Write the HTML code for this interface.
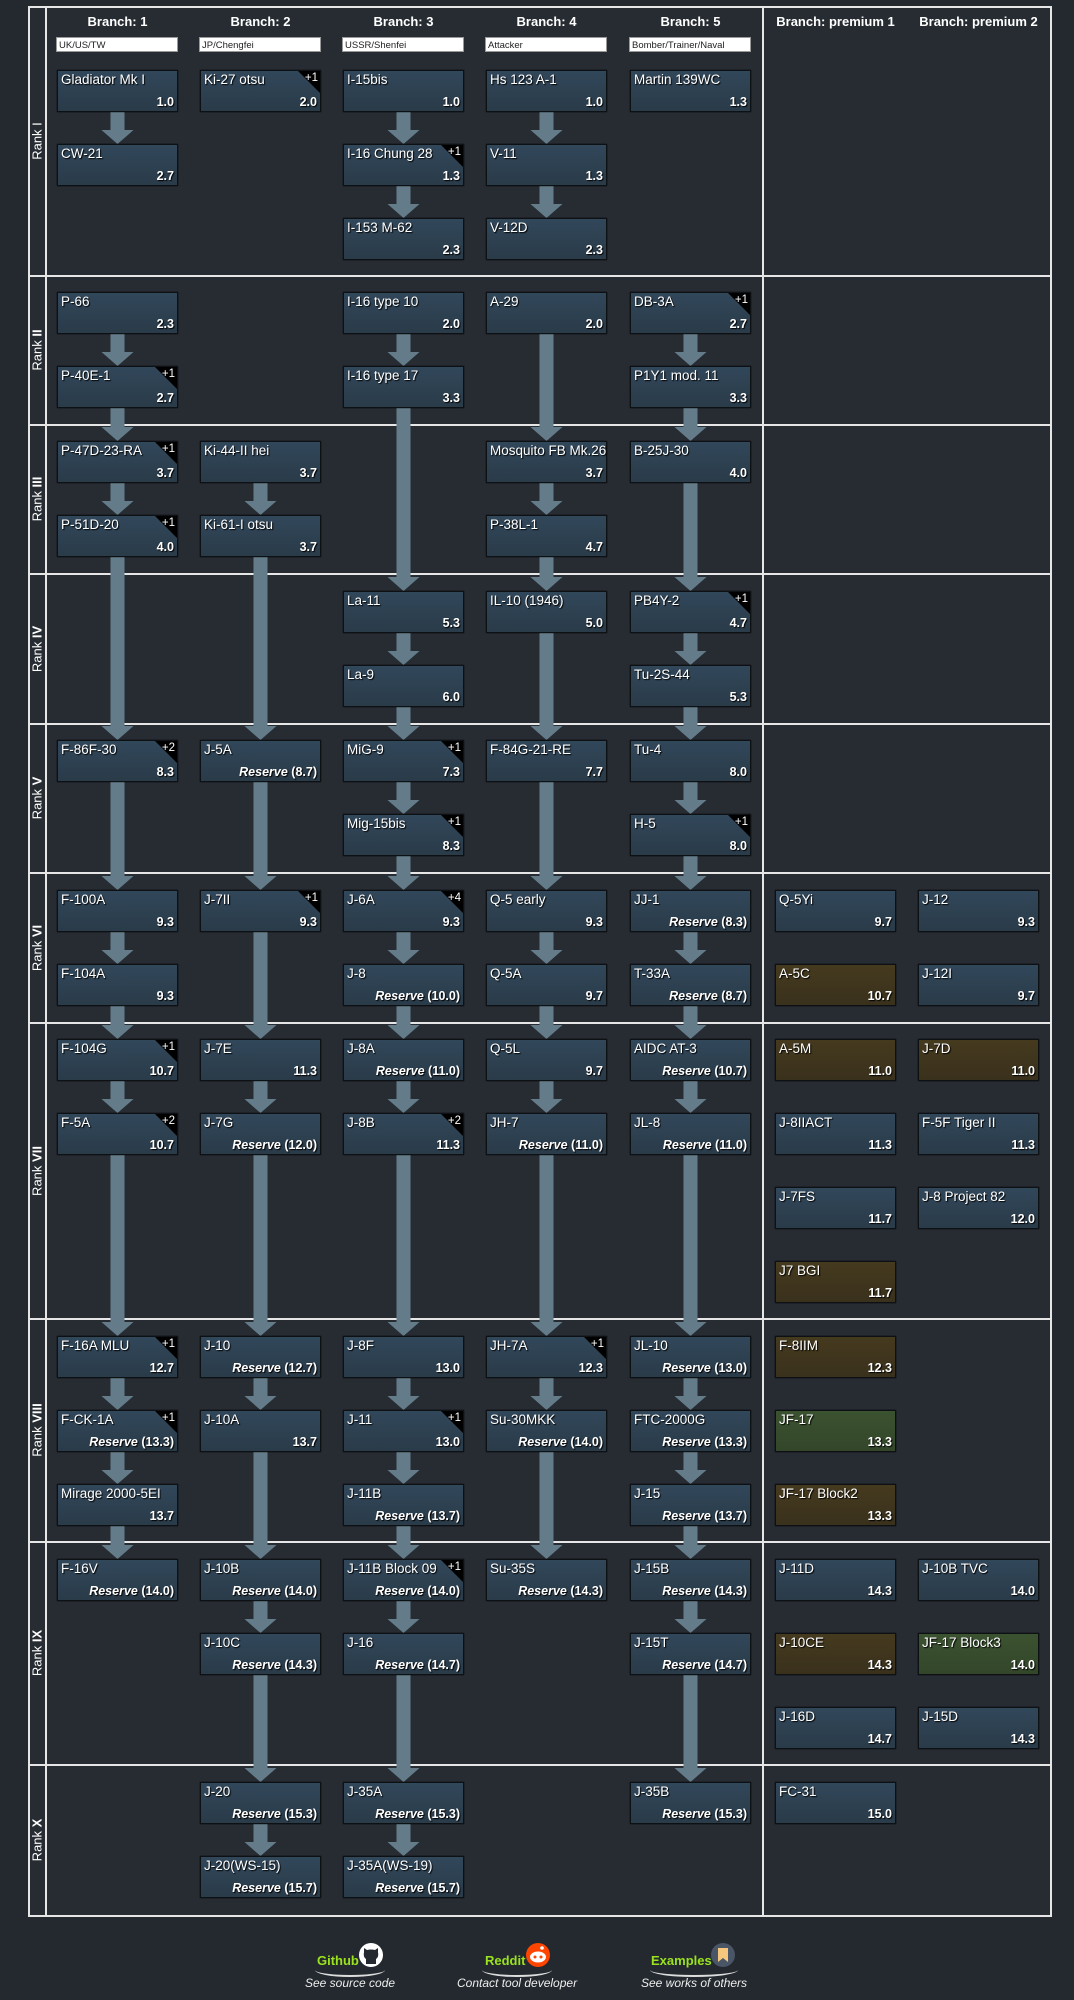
<!DOCTYPE html>
<html><head><meta charset="utf-8"><style>
body{margin:0;width:1074px;height:2000px;background:#23292e;font-family:"Liberation Sans",sans-serif;position:relative;overflow:hidden;color:#fff}
.frame{position:absolute;left:28px;top:6px;width:1020px;height:1907px;border:2px solid #e6e6e6;background:#262c32}
.hl{position:absolute;left:28px;width:1024px;height:2px;background:#e6e6e6}
.vl{position:absolute;width:2px;background:#e6e6e6}
.bh{position:absolute;top:14px;width:143px;text-align:center;font-weight:bold;font-size:13px}
.lb{position:absolute;top:37px;width:122px;height:15px;background:#fff;color:#222;font-size:9.5px;line-height:15px;padding-left:2px;border:1px solid #999;box-sizing:border-box}
.rk{position:absolute;left:28px;width:18px}
.rk span{position:absolute;left:50%;top:50%;transform:translate(-50%,-50%) rotate(-90deg);white-space:nowrap;font-size:13px}
.c{position:absolute;width:119px;height:40px;border:1px solid #0d1114;background:linear-gradient(#31475a,#2a3b49);box-shadow:0 0 1px #000}
.g{background:linear-gradient(#453a1e,#3a311d)}
.gr{background:linear-gradient(#3b5230,#33462a)}
.n{position:absolute;left:3px;top:1px;font-size:13.5px;white-space:nowrap;text-shadow:1px 1px 1px #000}
.b{position:absolute;right:3px;bottom:2px;font-size:12.5px;font-weight:bold;text-shadow:1px 1px 1px #000}
.b i{font-style:italic}
.t{position:absolute;right:0;top:0;width:0;height:0;border-top:22px solid #000;border-left:22px solid transparent}
.tt{position:absolute;right:2px;top:1px;font-size:11.5px}
svg{position:absolute;left:0;top:0}
.ft{position:absolute;top:1953px;font-weight:bold;color:#9be21e;font-size:13px}
.fs{position:absolute;top:1976px;font-style:italic;font-size:12px;color:#eee}
.ul{position:absolute;top:1970px;height:5px;border-bottom:2px solid #ddd;border-radius:0 0 50% 50%/0 0 100% 100%}
</style></head><body>
<div class="frame"></div>
<div class="vl" style="left:45px;top:6px;height:1909px"></div>
<div class="vl" style="left:762px;top:6px;height:1909px"></div>
<div class="hl" style="top:275px"></div><div class="hl" style="top:424px"></div><div class="hl" style="top:573px"></div><div class="hl" style="top:723px"></div><div class="hl" style="top:872px"></div><div class="hl" style="top:1022px"></div><div class="hl" style="top:1318px"></div><div class="hl" style="top:1541px"></div><div class="hl" style="top:1764px"></div>

<div class="rk" style="top:6px;height:269px"><span>Rank I</span></div>
<div class="rk" style="top:276px;height:148px"><span>Rank <b>II</b></span></div>
<div class="rk" style="top:425px;height:148px"><span>Rank <b>III</b></span></div>
<div class="rk" style="top:574px;height:149px"><span>Rank <b>IV</b></span></div>
<div class="rk" style="top:724px;height:148px"><span>Rank <b>V</b></span></div>
<div class="rk" style="top:873px;height:149px"><span>Rank <b>VI</b></span></div>
<div class="rk" style="top:1023px;height:295px"><span>Rank <b>VII</b></span></div>
<div class="rk" style="top:1319px;height:222px"><span>Rank <b>VIII</b></span></div>
<div class="rk" style="top:1542px;height:222px"><span>Rank <b>IX</b></span></div>
<div class="rk" style="top:1765px;height:150px"><span>Rank <b>X</b></span></div>

<div class="bh" style="left:46px">Branch: 1</div>
<div class="bh" style="left:189px">Branch: 2</div>
<div class="bh" style="left:332px">Branch: 3</div>
<div class="bh" style="left:475px">Branch: 4</div>
<div class="bh" style="left:619px">Branch: 5</div>
<div class="bh" style="left:764px">Branch: premium 1</div>
<div class="bh" style="left:907px">Branch: premium 2</div>
<div class="lb" style="left:56px">UK/US/TW</div>
<div class="lb" style="left:199px">JP/Chengfei</div>
<div class="lb" style="left:342px">USSR/Shenfei</div>
<div class="lb" style="left:485px">Attacker</div>
<div class="lb" style="left:629px">Bomber/Trainer/Naval</div>

<svg width="1074" height="2000" fill="#647c8a">
<g transform="translate(117.5,0)">
<polygon points="-7,112 7,112 7,130 16,130 0,144 -16,130 -7,130"/>
<polygon points="-7,334 7,334 7,352 16,352 0,366 -16,352 -7,352"/>
<polygon points="-7,408 7,408 7,427 16,427 0,441 -16,427 -7,427"/>
<polygon points="-7,483 7,483 7,501 16,501 0,515 -16,501 -7,501"/>
<polygon points="-7,557 7,557 7,726 16,726 0,740 -16,726 -7,726"/>
<polygon points="-7,782 7,782 7,876 16,876 0,890 -16,876 -7,876"/>
<polygon points="-7,932 7,932 7,950 16,950 0,964 -16,950 -7,950"/>
<polygon points="-7,1006 7,1006 7,1025 16,1025 0,1039 -16,1025 -7,1025"/>
<polygon points="-7,1081 7,1081 7,1099 16,1099 0,1113 -16,1099 -7,1099"/>
<polygon points="-7,1155 7,1155 7,1322 16,1322 0,1336 -16,1322 -7,1322"/>
<polygon points="-7,1378 7,1378 7,1396 16,1396 0,1410 -16,1396 -7,1396"/>
<polygon points="-7,1452 7,1452 7,1470 16,1470 0,1484 -16,1470 -7,1470"/>
<polygon points="-7,1526 7,1526 7,1545 16,1545 0,1559 -16,1545 -7,1545"/>
</g>
<g transform="translate(260.5,0)">
<polygon points="-7,483 7,483 7,501 16,501 0,515 -16,501 -7,501"/>
<polygon points="-7,557 7,557 7,726 16,726 0,740 -16,726 -7,726"/>
<polygon points="-7,782 7,782 7,876 16,876 0,890 -16,876 -7,876"/>
<polygon points="-7,932 7,932 7,1025 16,1025 0,1039 -16,1025 -7,1025"/>
<polygon points="-7,1081 7,1081 7,1099 16,1099 0,1113 -16,1099 -7,1099"/>
<polygon points="-7,1155 7,1155 7,1322 16,1322 0,1336 -16,1322 -7,1322"/>
<polygon points="-7,1378 7,1378 7,1396 16,1396 0,1410 -16,1396 -7,1396"/>
<polygon points="-7,1452 7,1452 7,1545 16,1545 0,1559 -16,1545 -7,1545"/>
<polygon points="-7,1601 7,1601 7,1619 16,1619 0,1633 -16,1619 -7,1619"/>
<polygon points="-7,1675 7,1675 7,1768 16,1768 0,1782 -16,1768 -7,1768"/>
<polygon points="-7,1824 7,1824 7,1842 16,1842 0,1856 -16,1842 -7,1842"/>
</g>
<g transform="translate(403.5,0)">
<polygon points="-7,112 7,112 7,130 16,130 0,144 -16,130 -7,130"/>
<polygon points="-7,186 7,186 7,204 16,204 0,218 -16,204 -7,204"/>
<polygon points="-7,334 7,334 7,352 16,352 0,366 -16,352 -7,352"/>
<polygon points="-7,408 7,408 7,577 16,577 0,591 -16,577 -7,577"/>
<polygon points="-7,633 7,633 7,651 16,651 0,665 -16,651 -7,651"/>
<polygon points="-7,707 7,707 7,726 16,726 0,740 -16,726 -7,726"/>
<polygon points="-7,782 7,782 7,800 16,800 0,814 -16,800 -7,800"/>
<polygon points="-7,856 7,856 7,876 16,876 0,890 -16,876 -7,876"/>
<polygon points="-7,932 7,932 7,950 16,950 0,964 -16,950 -7,950"/>
<polygon points="-7,1006 7,1006 7,1025 16,1025 0,1039 -16,1025 -7,1025"/>
<polygon points="-7,1081 7,1081 7,1099 16,1099 0,1113 -16,1099 -7,1099"/>
<polygon points="-7,1155 7,1155 7,1322 16,1322 0,1336 -16,1322 -7,1322"/>
<polygon points="-7,1378 7,1378 7,1396 16,1396 0,1410 -16,1396 -7,1396"/>
<polygon points="-7,1452 7,1452 7,1470 16,1470 0,1484 -16,1470 -7,1470"/>
<polygon points="-7,1526 7,1526 7,1545 16,1545 0,1559 -16,1545 -7,1545"/>
<polygon points="-7,1601 7,1601 7,1619 16,1619 0,1633 -16,1619 -7,1619"/>
<polygon points="-7,1675 7,1675 7,1768 16,1768 0,1782 -16,1768 -7,1768"/>
<polygon points="-7,1824 7,1824 7,1842 16,1842 0,1856 -16,1842 -7,1842"/>
</g>
<g transform="translate(546.5,0)">
<polygon points="-7,112 7,112 7,130 16,130 0,144 -16,130 -7,130"/>
<polygon points="-7,186 7,186 7,204 16,204 0,218 -16,204 -7,204"/>
<polygon points="-7,334 7,334 7,427 16,427 0,441 -16,427 -7,427"/>
<polygon points="-7,483 7,483 7,501 16,501 0,515 -16,501 -7,501"/>
<polygon points="-7,557 7,557 7,577 16,577 0,591 -16,577 -7,577"/>
<polygon points="-7,633 7,633 7,726 16,726 0,740 -16,726 -7,726"/>
<polygon points="-7,782 7,782 7,876 16,876 0,890 -16,876 -7,876"/>
<polygon points="-7,932 7,932 7,950 16,950 0,964 -16,950 -7,950"/>
<polygon points="-7,1006 7,1006 7,1025 16,1025 0,1039 -16,1025 -7,1025"/>
<polygon points="-7,1081 7,1081 7,1099 16,1099 0,1113 -16,1099 -7,1099"/>
<polygon points="-7,1155 7,1155 7,1322 16,1322 0,1336 -16,1322 -7,1322"/>
<polygon points="-7,1378 7,1378 7,1396 16,1396 0,1410 -16,1396 -7,1396"/>
<polygon points="-7,1452 7,1452 7,1545 16,1545 0,1559 -16,1545 -7,1545"/>
</g>
<g transform="translate(690.5,0)">
<polygon points="-7,334 7,334 7,352 16,352 0,366 -16,352 -7,352"/>
<polygon points="-7,408 7,408 7,427 16,427 0,441 -16,427 -7,427"/>
<polygon points="-7,483 7,483 7,577 16,577 0,591 -16,577 -7,577"/>
<polygon points="-7,633 7,633 7,651 16,651 0,665 -16,651 -7,651"/>
<polygon points="-7,707 7,707 7,726 16,726 0,740 -16,726 -7,726"/>
<polygon points="-7,782 7,782 7,800 16,800 0,814 -16,800 -7,800"/>
<polygon points="-7,856 7,856 7,876 16,876 0,890 -16,876 -7,876"/>
<polygon points="-7,932 7,932 7,950 16,950 0,964 -16,950 -7,950"/>
<polygon points="-7,1006 7,1006 7,1025 16,1025 0,1039 -16,1025 -7,1025"/>
<polygon points="-7,1081 7,1081 7,1099 16,1099 0,1113 -16,1099 -7,1099"/>
<polygon points="-7,1155 7,1155 7,1322 16,1322 0,1336 -16,1322 -7,1322"/>
<polygon points="-7,1378 7,1378 7,1396 16,1396 0,1410 -16,1396 -7,1396"/>
<polygon points="-7,1452 7,1452 7,1470 16,1470 0,1484 -16,1470 -7,1470"/>
<polygon points="-7,1526 7,1526 7,1545 16,1545 0,1559 -16,1545 -7,1545"/>
<polygon points="-7,1601 7,1601 7,1619 16,1619 0,1633 -16,1619 -7,1619"/>
<polygon points="-7,1675 7,1675 7,1768 16,1768 0,1782 -16,1768 -7,1768"/>
</g>
</svg>

<div class="c" style="left:57px;top:70px"><span class="n">Gladiator Mk I</span><span class="b">1.0</span></div>
<div class="c" style="left:57px;top:144px"><span class="n">CW-21</span><span class="b">2.7</span></div>
<div class="c" style="left:57px;top:292px"><span class="n">P-66</span><span class="b">2.3</span></div>
<div class="c" style="left:57px;top:366px"><span class="n">P-40E-1</span><span class="t"></span><span class="tt">+1</span><span class="b">2.7</span></div>
<div class="c" style="left:57px;top:441px"><span class="n">P-47D-23-RA</span><span class="t"></span><span class="tt">+1</span><span class="b">3.7</span></div>
<div class="c" style="left:57px;top:515px"><span class="n">P-51D-20</span><span class="t"></span><span class="tt">+1</span><span class="b">4.0</span></div>
<div class="c" style="left:57px;top:740px"><span class="n">F-86F-30</span><span class="t"></span><span class="tt">+2</span><span class="b">8.3</span></div>
<div class="c" style="left:57px;top:890px"><span class="n">F-100A</span><span class="b">9.3</span></div>
<div class="c" style="left:57px;top:964px"><span class="n">F-104A</span><span class="b">9.3</span></div>
<div class="c" style="left:57px;top:1039px"><span class="n">F-104G</span><span class="t"></span><span class="tt">+1</span><span class="b">10.7</span></div>
<div class="c" style="left:57px;top:1113px"><span class="n">F-5A</span><span class="t"></span><span class="tt">+2</span><span class="b">10.7</span></div>
<div class="c" style="left:57px;top:1336px"><span class="n">F-16A MLU</span><span class="t"></span><span class="tt">+1</span><span class="b">12.7</span></div>
<div class="c" style="left:57px;top:1410px"><span class="n">F-CK-1A</span><span class="t"></span><span class="tt">+1</span><span class="b"><i>Reserve</i> (13.3)</span></div>
<div class="c" style="left:57px;top:1484px"><span class="n">Mirage 2000-5EI</span><span class="b">13.7</span></div>
<div class="c" style="left:57px;top:1559px"><span class="n">F-16V</span><span class="b"><i>Reserve</i> (14.0)</span></div>
<div class="c" style="left:200px;top:70px"><span class="n">Ki-27 otsu</span><span class="t"></span><span class="tt">+1</span><span class="b">2.0</span></div>
<div class="c" style="left:200px;top:441px"><span class="n">Ki-44-II hei</span><span class="b">3.7</span></div>
<div class="c" style="left:200px;top:515px"><span class="n">Ki-61-I otsu</span><span class="b">3.7</span></div>
<div class="c" style="left:200px;top:740px"><span class="n">J-5A</span><span class="b"><i>Reserve</i> (8.7)</span></div>
<div class="c" style="left:200px;top:890px"><span class="n">J-7II</span><span class="t"></span><span class="tt">+1</span><span class="b">9.3</span></div>
<div class="c" style="left:200px;top:1039px"><span class="n">J-7E</span><span class="b">11.3</span></div>
<div class="c" style="left:200px;top:1113px"><span class="n">J-7G</span><span class="b"><i>Reserve</i> (12.0)</span></div>
<div class="c" style="left:200px;top:1336px"><span class="n">J-10</span><span class="b"><i>Reserve</i> (12.7)</span></div>
<div class="c" style="left:200px;top:1410px"><span class="n">J-10A</span><span class="b">13.7</span></div>
<div class="c" style="left:200px;top:1559px"><span class="n">J-10B</span><span class="b"><i>Reserve</i> (14.0)</span></div>
<div class="c" style="left:200px;top:1633px"><span class="n">J-10C</span><span class="b"><i>Reserve</i> (14.3)</span></div>
<div class="c" style="left:200px;top:1782px"><span class="n">J-20</span><span class="b"><i>Reserve</i> (15.3)</span></div>
<div class="c" style="left:200px;top:1856px"><span class="n">J-20(WS-15)</span><span class="b"><i>Reserve</i> (15.7)</span></div>
<div class="c" style="left:343px;top:70px"><span class="n">I-15bis</span><span class="b">1.0</span></div>
<div class="c" style="left:343px;top:144px"><span class="n">I-16 Chung 28</span><span class="t"></span><span class="tt">+1</span><span class="b">1.3</span></div>
<div class="c" style="left:343px;top:218px"><span class="n">I-153 M-62</span><span class="b">2.3</span></div>
<div class="c" style="left:343px;top:292px"><span class="n">I-16 type 10</span><span class="b">2.0</span></div>
<div class="c" style="left:343px;top:366px"><span class="n">I-16 type 17</span><span class="b">3.3</span></div>
<div class="c" style="left:343px;top:591px"><span class="n">La-11</span><span class="b">5.3</span></div>
<div class="c" style="left:343px;top:665px"><span class="n">La-9</span><span class="b">6.0</span></div>
<div class="c" style="left:343px;top:740px"><span class="n">MiG-9</span><span class="t"></span><span class="tt">+1</span><span class="b">7.3</span></div>
<div class="c" style="left:343px;top:814px"><span class="n">Mig-15bis</span><span class="t"></span><span class="tt">+1</span><span class="b">8.3</span></div>
<div class="c" style="left:343px;top:890px"><span class="n">J-6A</span><span class="t"></span><span class="tt">+4</span><span class="b">9.3</span></div>
<div class="c" style="left:343px;top:964px"><span class="n">J-8</span><span class="b"><i>Reserve</i> (10.0)</span></div>
<div class="c" style="left:343px;top:1039px"><span class="n">J-8A</span><span class="b"><i>Reserve</i> (11.0)</span></div>
<div class="c" style="left:343px;top:1113px"><span class="n">J-8B</span><span class="t"></span><span class="tt">+2</span><span class="b">11.3</span></div>
<div class="c" style="left:343px;top:1336px"><span class="n">J-8F</span><span class="b">13.0</span></div>
<div class="c" style="left:343px;top:1410px"><span class="n">J-11</span><span class="t"></span><span class="tt">+1</span><span class="b">13.0</span></div>
<div class="c" style="left:343px;top:1484px"><span class="n">J-11B</span><span class="b"><i>Reserve</i> (13.7)</span></div>
<div class="c" style="left:343px;top:1559px"><span class="n">J-11B Block 09</span><span class="t"></span><span class="tt">+1</span><span class="b"><i>Reserve</i> (14.0)</span></div>
<div class="c" style="left:343px;top:1633px"><span class="n">J-16</span><span class="b"><i>Reserve</i> (14.7)</span></div>
<div class="c" style="left:343px;top:1782px"><span class="n">J-35A</span><span class="b"><i>Reserve</i> (15.3)</span></div>
<div class="c" style="left:343px;top:1856px"><span class="n">J-35A(WS-19)</span><span class="b"><i>Reserve</i> (15.7)</span></div>
<div class="c" style="left:486px;top:70px"><span class="n">Hs 123 A-1</span><span class="b">1.0</span></div>
<div class="c" style="left:486px;top:144px"><span class="n">V-11</span><span class="b">1.3</span></div>
<div class="c" style="left:486px;top:218px"><span class="n">V-12D</span><span class="b">2.3</span></div>
<div class="c" style="left:486px;top:292px"><span class="n">A-29</span><span class="b">2.0</span></div>
<div class="c" style="left:486px;top:441px"><span class="n">Mosquito FB Mk.26</span><span class="b">3.7</span></div>
<div class="c" style="left:486px;top:515px"><span class="n">P-38L-1</span><span class="b">4.7</span></div>
<div class="c" style="left:486px;top:591px"><span class="n">IL-10 (1946)</span><span class="b">5.0</span></div>
<div class="c" style="left:486px;top:740px"><span class="n">F-84G-21-RE</span><span class="b">7.7</span></div>
<div class="c" style="left:486px;top:890px"><span class="n">Q-5 early</span><span class="b">9.3</span></div>
<div class="c" style="left:486px;top:964px"><span class="n">Q-5A</span><span class="b">9.7</span></div>
<div class="c" style="left:486px;top:1039px"><span class="n">Q-5L</span><span class="b">9.7</span></div>
<div class="c" style="left:486px;top:1113px"><span class="n">JH-7</span><span class="b"><i>Reserve</i> (11.0)</span></div>
<div class="c" style="left:486px;top:1336px"><span class="n">JH-7A</span><span class="t"></span><span class="tt">+1</span><span class="b">12.3</span></div>
<div class="c" style="left:486px;top:1410px"><span class="n">Su-30MKK</span><span class="b"><i>Reserve</i> (14.0)</span></div>
<div class="c" style="left:486px;top:1559px"><span class="n">Su-35S</span><span class="b"><i>Reserve</i> (14.3)</span></div>
<div class="c" style="left:630px;top:70px"><span class="n">Martin 139WC</span><span class="b">1.3</span></div>
<div class="c" style="left:630px;top:292px"><span class="n">DB-3A</span><span class="t"></span><span class="tt">+1</span><span class="b">2.7</span></div>
<div class="c" style="left:630px;top:366px"><span class="n">P1Y1 mod. 11</span><span class="b">3.3</span></div>
<div class="c" style="left:630px;top:441px"><span class="n">B-25J-30</span><span class="b">4.0</span></div>
<div class="c" style="left:630px;top:591px"><span class="n">PB4Y-2</span><span class="t"></span><span class="tt">+1</span><span class="b">4.7</span></div>
<div class="c" style="left:630px;top:665px"><span class="n">Tu-2S-44</span><span class="b">5.3</span></div>
<div class="c" style="left:630px;top:740px"><span class="n">Tu-4</span><span class="b">8.0</span></div>
<div class="c" style="left:630px;top:814px"><span class="n">H-5</span><span class="t"></span><span class="tt">+1</span><span class="b">8.0</span></div>
<div class="c" style="left:630px;top:890px"><span class="n">JJ-1</span><span class="b"><i>Reserve</i> (8.3)</span></div>
<div class="c" style="left:630px;top:964px"><span class="n">T-33A</span><span class="b"><i>Reserve</i> (8.7)</span></div>
<div class="c" style="left:630px;top:1039px"><span class="n">AIDC AT-3</span><span class="b"><i>Reserve</i> (10.7)</span></div>
<div class="c" style="left:630px;top:1113px"><span class="n">JL-8</span><span class="b"><i>Reserve</i> (11.0)</span></div>
<div class="c" style="left:630px;top:1336px"><span class="n">JL-10</span><span class="b"><i>Reserve</i> (13.0)</span></div>
<div class="c" style="left:630px;top:1410px"><span class="n">FTC-2000G</span><span class="b"><i>Reserve</i> (13.3)</span></div>
<div class="c" style="left:630px;top:1484px"><span class="n">J-15</span><span class="b"><i>Reserve</i> (13.7)</span></div>
<div class="c" style="left:630px;top:1559px"><span class="n">J-15B</span><span class="b"><i>Reserve</i> (14.3)</span></div>
<div class="c" style="left:630px;top:1633px"><span class="n">J-15T</span><span class="b"><i>Reserve</i> (14.7)</span></div>
<div class="c" style="left:630px;top:1782px"><span class="n">J-35B</span><span class="b"><i>Reserve</i> (15.3)</span></div>
<div class="c" style="left:775px;top:890px"><span class="n">Q-5Yi</span><span class="b">9.7</span></div>
<div class="c g" style="left:775px;top:964px"><span class="n">A-5C</span><span class="b">10.7</span></div>
<div class="c g" style="left:775px;top:1039px"><span class="n">A-5M</span><span class="b">11.0</span></div>
<div class="c" style="left:775px;top:1113px"><span class="n">J-8IIACT</span><span class="b">11.3</span></div>
<div class="c" style="left:775px;top:1187px"><span class="n">J-7FS</span><span class="b">11.7</span></div>
<div class="c g" style="left:775px;top:1261px"><span class="n">J7 BGI</span><span class="b">11.7</span></div>
<div class="c g" style="left:775px;top:1336px"><span class="n">F-8IIM</span><span class="b">12.3</span></div>
<div class="c gr" style="left:775px;top:1410px"><span class="n">JF-17</span><span class="b">13.3</span></div>
<div class="c g" style="left:775px;top:1484px"><span class="n">JF-17 Block2</span><span class="b">13.3</span></div>
<div class="c" style="left:775px;top:1559px"><span class="n">J-11D</span><span class="b">14.3</span></div>
<div class="c g" style="left:775px;top:1633px"><span class="n">J-10CE</span><span class="b">14.3</span></div>
<div class="c" style="left:775px;top:1707px"><span class="n">J-16D</span><span class="b">14.7</span></div>
<div class="c" style="left:775px;top:1782px"><span class="n">FC-31</span><span class="b">15.0</span></div>
<div class="c" style="left:918px;top:890px"><span class="n">J-12</span><span class="b">9.3</span></div>
<div class="c" style="left:918px;top:964px"><span class="n">J-12I</span><span class="b">9.7</span></div>
<div class="c g" style="left:918px;top:1039px"><span class="n">J-7D</span><span class="b">11.0</span></div>
<div class="c" style="left:918px;top:1113px"><span class="n">F-5F Tiger II</span><span class="b">11.3</span></div>
<div class="c" style="left:918px;top:1187px"><span class="n">J-8 Project 82</span><span class="b">12.0</span></div>
<div class="c" style="left:918px;top:1559px"><span class="n">J-10B TVC</span><span class="b">14.0</span></div>
<div class="c gr" style="left:918px;top:1633px"><span class="n">JF-17 Block3</span><span class="b">14.0</span></div>
<div class="c" style="left:918px;top:1707px"><span class="n">J-15D</span><span class="b">14.3</span></div>

<div class="ft" style="left:317px">Github</div>
<svg style="left:358px;top:1942px" width="26" height="26" viewBox="0 0 26 26"><circle cx="13" cy="13" r="12" fill="#fff"/><path d="M8 22 L8 17 Q5 15 6 10 L6 6 L9 8 Q13 7 17 8 L20 6 L20 10 Q21 15 18 17 L18 22 Z" fill="#23292e"/></svg>
<div class="ul" style="left:315px;width:70px"></div>
<div class="fs" style="left:305px">See source code</div>
<div class="ft" style="left:485px">Reddit</div>
<svg style="left:525px;top:1942px" width="26" height="26"><circle cx="13" cy="13" r="12" fill="#ff4500"/><ellipse cx="13" cy="15" rx="8" ry="5.5" fill="#fff"/><circle cx="10" cy="15" r="1.5" fill="#ff4500"/><circle cx="16" cy="15" r="1.5" fill="#ff4500"/><circle cx="17" cy="6" r="1.8" fill="#fff"/></svg>
<div class="ul" style="left:482px;width:70px"></div>
<div class="fs" style="left:457px">Contact tool developer</div>
<div class="ft" style="left:651px">Examples</div>
<svg style="left:710px;top:1942px" width="26" height="26"><circle cx="13" cy="13" r="12" fill="#4a5566"/><path d="M8 6 L18 6 L18 20 L13 16 L8 20 Z" fill="#f5c77e"/></svg>
<div class="ul" style="left:650px;width:88px"></div>
<div class="fs" style="left:641px">See works of others</div>
</body></html>
